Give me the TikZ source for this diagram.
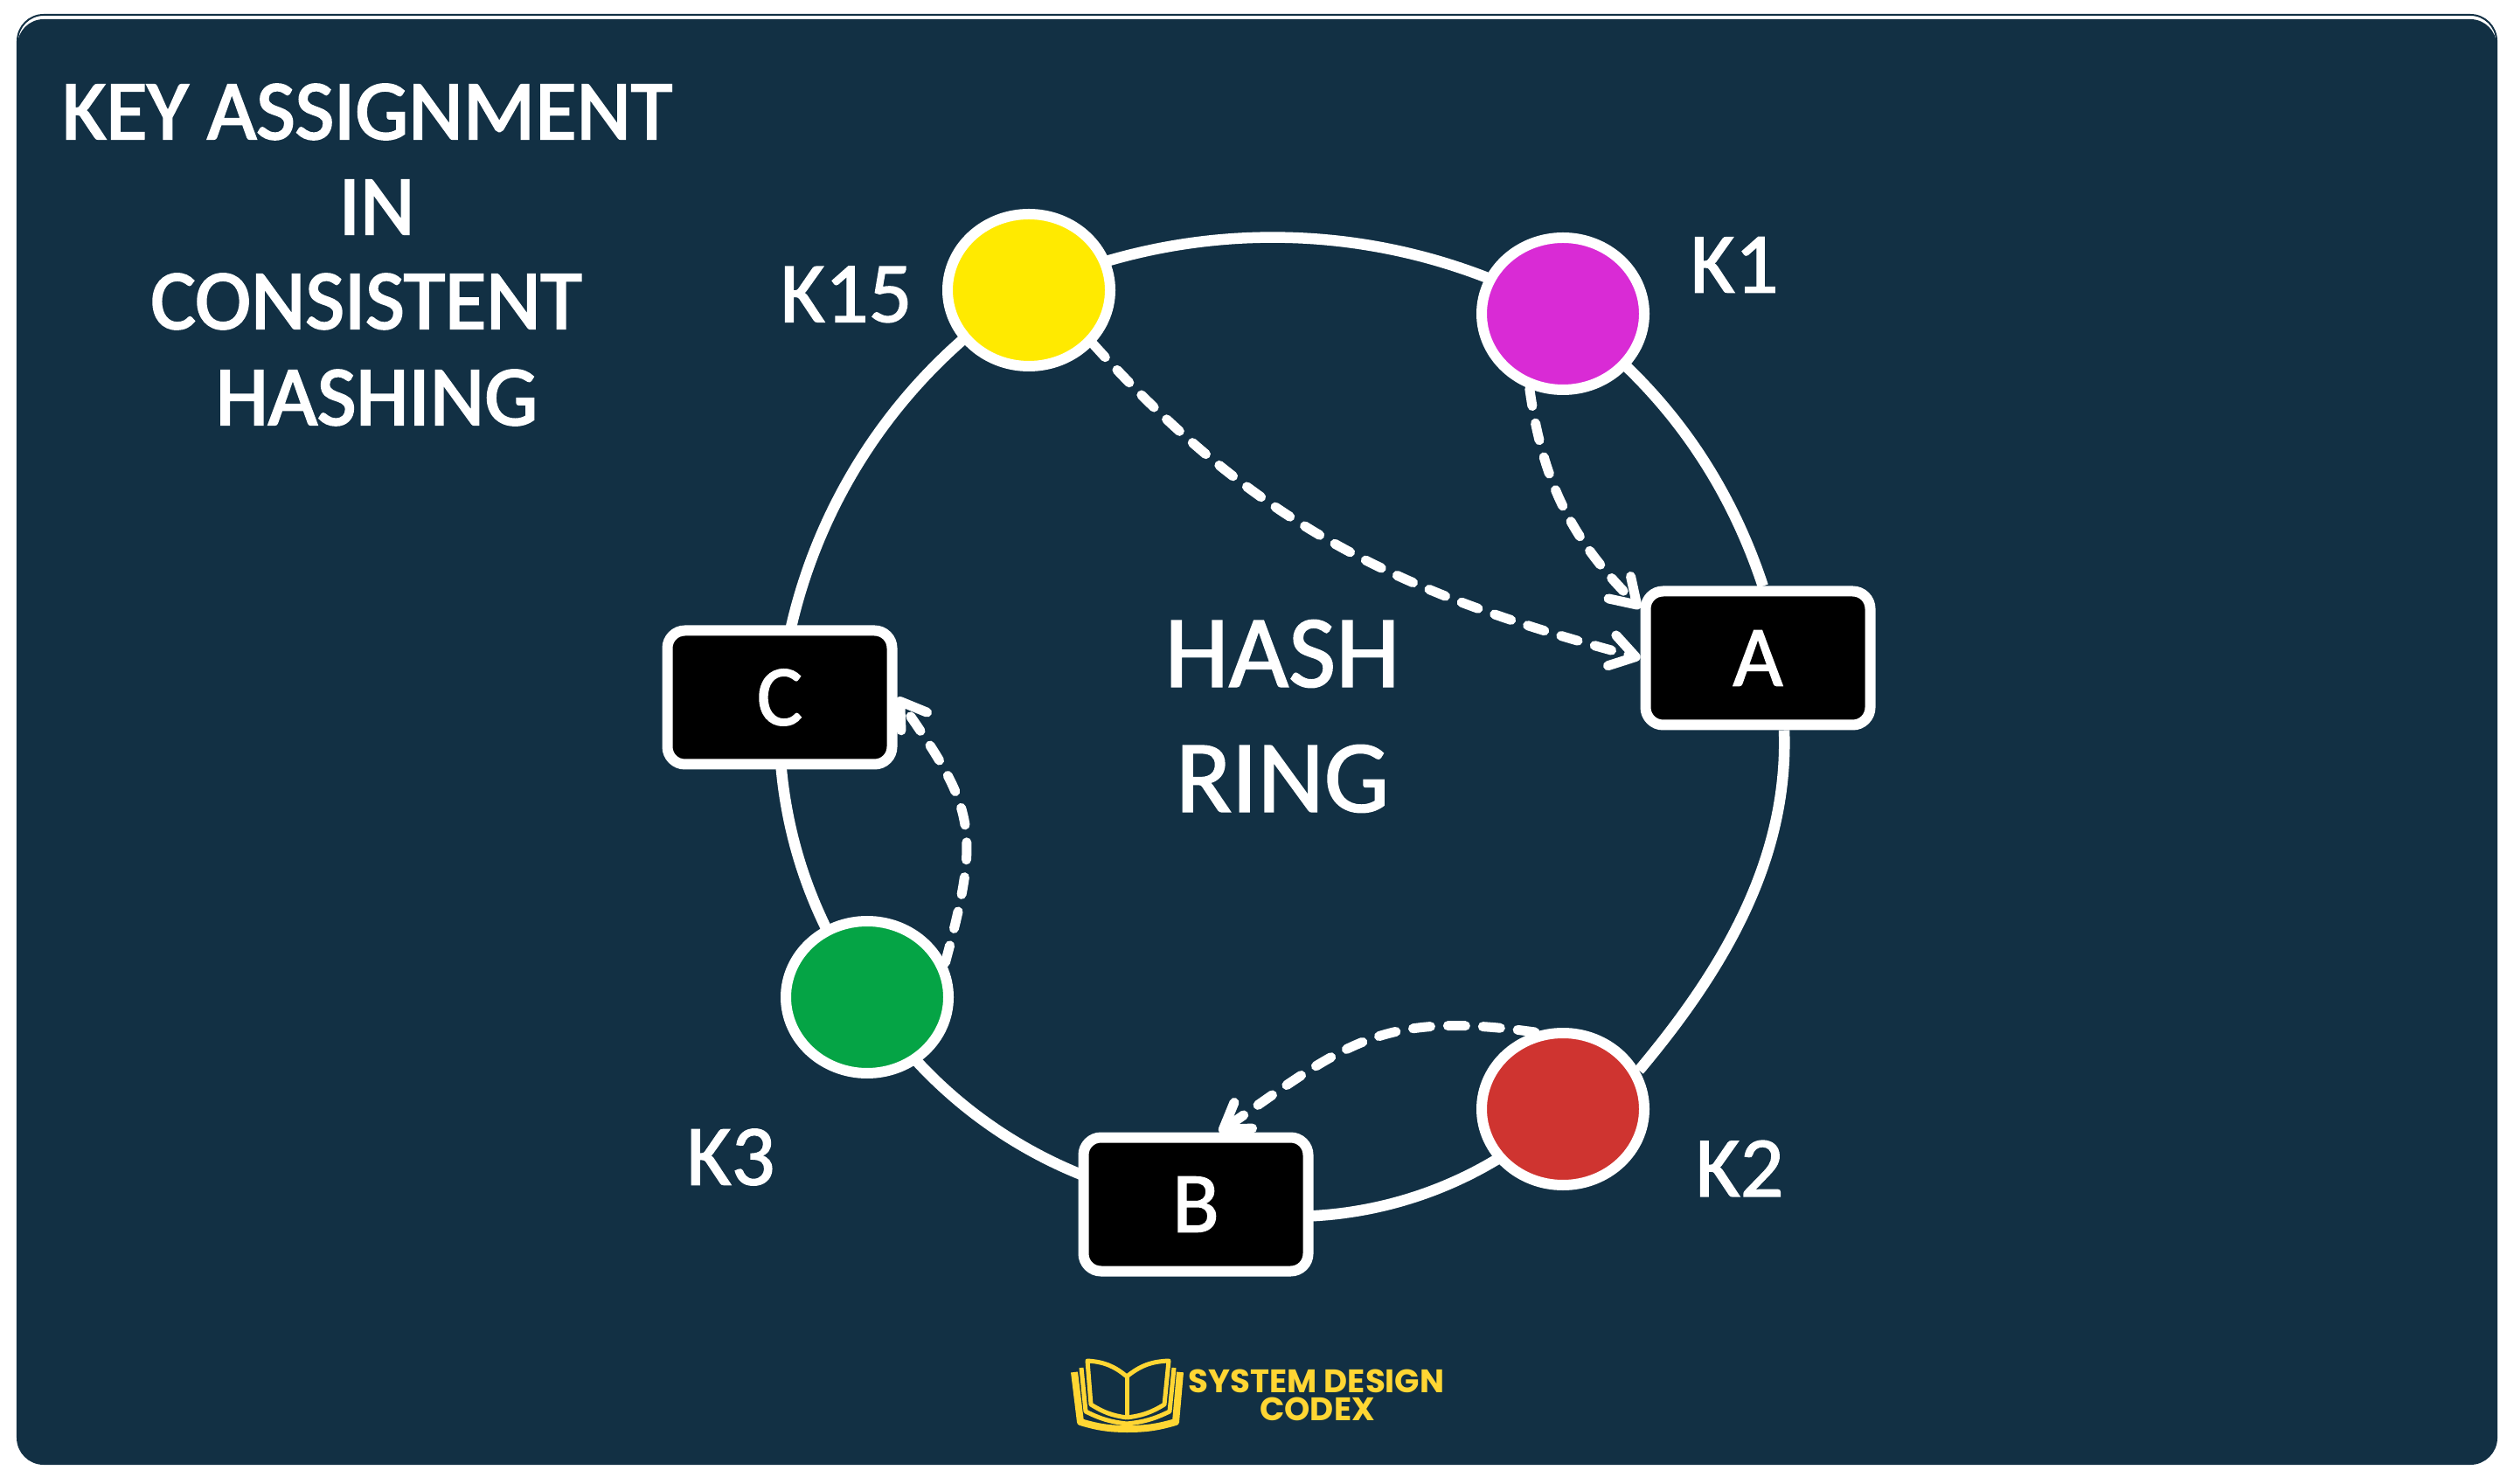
\documentclass[tikz,border=0pt]{standalone}
\usepackage{fontspec}
\setmainfont{Carlito}
\newfontfamily\handfont[FakeBold=1.5]{Carlito}
\newfontfamily\titlefont[FakeBold=2.5]{Carlito}
\newfontfamily\logofont{Poppins}
\usepackage{tikz}
\usetikzlibrary{arrows.meta,shapes.geometric,backgrounds}

\definecolor{panelblue}{HTML}{123044}
\definecolor{keyyellow}{HTML}{FFEA00}
\definecolor{keypurple}{HTML}{D92BD5}
\definecolor{keyred}{HTML}{CF3430}
\definecolor{keygreen}{HTML}{05A445}
\definecolor{logogold}{HTML}{FFD633}

\tikzset{
    keynode/.style={ellipse,draw=white,line width=0.12cm,minimum width=1.86cm,minimum height=1.74cm,inner sep=0pt},
    servernode/.style={rectangle,rounded corners=0.2cm,draw=white,fill=black,text=white,line width=0.12cm,minimum width=2.57cm,minimum height=1.53cm,font=\handfont\fontsize{28}{28}\selectfont},
    keylabel/.style={text=white,font=\handfont\fontsize{28}{28}\selectfont},
    ringlabel/.style={text=white,font=\handfont\fontsize{33.5}{33.5}\selectfont},
    titlelabel/.style={text=white,font=\titlefont\fontsize{27.5}{27.5}\selectfont},
    logolabel/.style={text=logogold,inner sep=0pt,font=\logofont\bfseries\fontsize{10.6}{10.6}\selectfont},
    ringline/.style={white,line width=0.125cm,bend left=#1,looseness=0.9},
    keyarrow/.style={white,line width=0.11cm,line cap=round,dash pattern=on 0.2cm off 0.2cm,-{Straight Barb[round,length=0.28cm,width=0.36cm]}},
    bookline/.style={logogold,line width=0.05cm,line join=round}
}

\begin{document}
\begin{tikzpicture}

    \useasboundingbox (0,0) rectangle (28.76,16.97);

    % title
    \node[titlelabel] (titleone) at (4.20,15.69) {KEY ASSIGNMENT};
    \node[titlelabel] (titletwo) at (4.31,14.60) {IN};
    \node[titlelabel] (titlethree) at (4.19,13.52) {CONSISTENT};
    \node[titlelabel] (titlefour) at (4.31,12.42) {HASHING};

    % keys on the ring
    \node[keynode,fill=keyyellow] (k15) at (11.77,13.65) {};
    \node[keynode,fill=keypurple] (k1) at (17.88,13.38) {};
    \node[keynode,fill=keyred] (k2) at (17.88,4.28) {};
    \node[keynode,fill=keygreen] (k3) at (9.92,5.56) {};

    % servers on the ring
    \node[servernode] (a) at (20.11,9.44) {A};
    \node[servernode] (b) at (13.68,3.19) {B};
    \node[servernode] (c) at (8.92,8.99) {C};

    % key labels
    \node[keylabel] (k15label) at (9.68,13.60) {K15};
    \node[keylabel] (k1label) at (19.84,13.94) {K1};
    \node[keylabel] (k2label) at (19.90,3.60) {K2};
    \node[keylabel] (k3label) at (8.36,3.73) {K3};

    % centre of the ring
    \node[ringlabel] (hash) at (14.67,9.49) {HASH};
    \node[ringlabel] (ring) at (14.67,8.06) {RING};

    % panel and ring behind the nodes
    \begin{pgfonlayer}{background}
        \fill[panelblue,rounded corners=0.3cm] (0.20,0.22) rectangle (28.56,16.75);
        \draw[panelblue,line width=0.02cm,rounded corners=0.3cm] (0.20,0.22) rectangle (28.56,16.80);
        \draw[ringline=27] (k15.center) to (k1.center);
        \draw[ringline=18] (k1.center) to (a.86);
        \draw[white,line width=0.125cm] (a.-70) to[out=-88,in=50,looseness=0.9] (k2.27);
        \draw[ringline=29] (k2.center) to (b.center);
        \draw[ringline=25] (b.center) to (k3.center);
        \draw[ringline=19] (k3.center) to (c.center);
        \draw[ringline=26] (c.center) to (k15.center);
    \end{pgfonlayer}

    % key to server
    \draw[keyarrow] (k15.-40) to[out=-48,in=165] (a.west);
    \draw[keyarrow] (k1.-114) to[out=-82,in=135] (a.157);
    \draw[keyarrow] (k2.110) to[out=172,in=35,looseness=1.2] (b.72);
    \draw[keyarrow] (k3.24) to[out=75,in=-55,looseness=1.3] (c.east);

    % logo
    \draw[bookline] (12.89,1.22) -- (12.89,0.75);
    \draw[bookline] (12.89,1.22) to[bend right=18] (12.44,1.40) -- (12.48,0.90) to[bend right=12] (12.89,0.75);
    \draw[bookline] (12.89,1.22) to[bend left=18] (13.37,1.40) -- (13.32,0.90) to[bend left=12] (12.89,0.75);
    \draw[bookline] (12.37,1.32) -- (12.42,0.82) to[bend right=10] (12.89,0.68) to[bend right=10] (13.38,0.82) -- (13.43,1.32);
    \draw[bookline,line width=0.08cm] (12.29,1.27) -- (12.36,0.70) to[bend right=8] (12.89,0.62) to[bend right=8] (13.45,0.70) -- (13.50,1.27);
    \node[logolabel] (logoone) at (15.06,1.17) {SYSTEM DESIGN};
    \node[logolabel] (logotwo) at (15.07,0.85) {CODEX};

\end{tikzpicture}
\end{document}
